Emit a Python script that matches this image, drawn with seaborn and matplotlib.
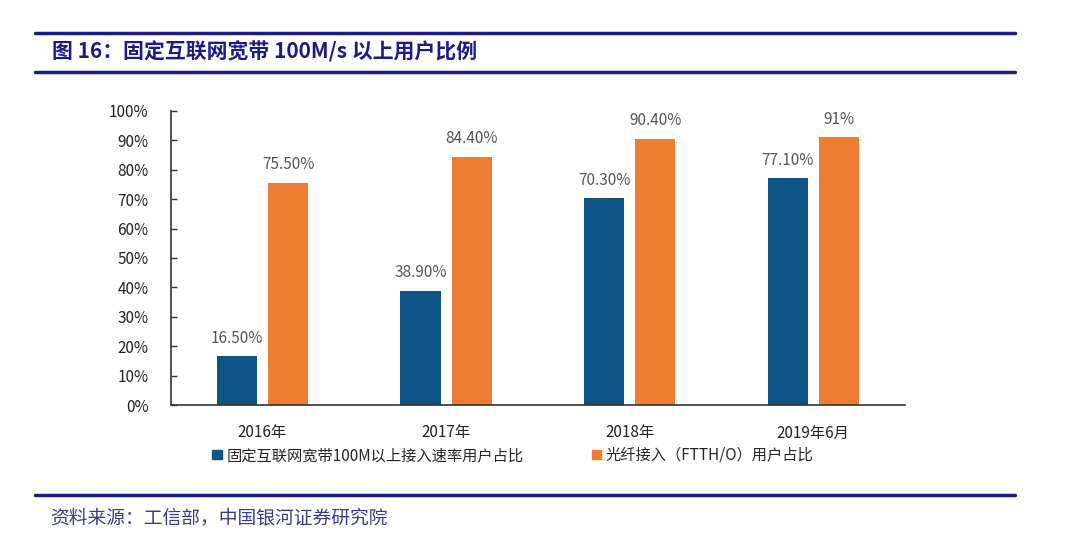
import matplotlib
matplotlib.use("Agg")
import matplotlib.pyplot as plt
import seaborn as sns
import pandas as pd
from matplotlib.lines import Line2D
from matplotlib.patches import Patch

# data
years = ["2016年", "2017年", "2018年", "2019年6月"]
speed_100m = [16.5, 38.9, 70.3, 77.1]
ftth = [75.5, 84.4, 90.4, 91.0]
speed_labels = ["16.50%", "38.90%", "70.30%", "77.10%"]
ftth_labels = ["75.50%", "84.40%", "90.40%", "91%"]
series_names = ["固定互联网宽带100M以上接入速率用户占比", "光纤接入（FTTH/O）用户占比"]

df = pd.DataFrame({
    "year": years * 2,
    "value": speed_100m + ftth,
    "series": [series_names[0]] * 4 + [series_names[1]] * 4,
})

sns.set_theme(style="white")
plt.rcParams["font.family"] = ["Noto Sans CJK SC", "DejaVu Sans"]

blue = "#0D5586"
orange = "#ED7D31"
navy = "#1E1A86"

fig = plt.figure(figsize=(10.8, 5.44), dpi=100)
ax = fig.add_axes([0.158, 0.2555, 0.68, 0.5405])

sns.barplot(data=df, x="year", y="value", hue="series", palette=[blue, orange],
            width=0.556, gap=0.215, ax=ax, legend=False, saturation=1, linewidth=0)

for cont, labels in zip(ax.containers, [speed_labels, ftth_labels]):
    ax.bar_label(cont, labels=labels, padding=7, fontsize=11, color="#555555")

ax.set_ylim(0, 100)
ax.set_yticks(range(0, 101, 10))
ax.set_yticklabels([f"{v}%" for v in range(0, 101, 10)], fontsize=11, color="#222222")
ax.set_xlim(-0.5, 3.5)
ax.tick_params(axis="y", direction="in", length=4, width=1, color="#333333", pad=16, left=True)
ax.tick_params(axis="x", length=0, labelsize=11, pad=14, labelcolor="#222222")
ax.set_xlabel("")
ax.set_ylabel("")
for s in ["top", "right"]:
    ax.spines[s].set_visible(False)
for s in ["left", "bottom"]:
    ax.spines[s].set_color("#333333")
    ax.spines[s].set_linewidth(1.2)

# legend
handles = [Patch(color=blue), Patch(color=orange)]
fig.legend(handles, series_names, loc="center", bbox_to_anchor=(0.475, 0.163), ncol=2,
           frameon=False, fontsize=11, handlelength=0.6, handleheight=0.6,
           handletextpad=0.3, columnspacing=4.5)

# header / footer lines
for y in [1 - 33 / 544, 1 - 72 / 544, 1 - 495 / 544]:
    fig.add_artist(Line2D([0.032, 0.94], [y, y], color=navy, lw=2.5, transform=fig.transFigure))

fig.text(0.048, 1 - 52 / 544, "图 16：固定互联网宽带 100M/s 以上用户比例", fontsize=15,
         fontweight="bold", color=navy, va="center")
fig.text(0.046, 1 - 518 / 544, "资料来源：工信部，中国银河证券研究院", fontsize=13.5,
         style="italic", color="#3B3A8A", va="center")

fig.savefig("out.png", dpi=100)
